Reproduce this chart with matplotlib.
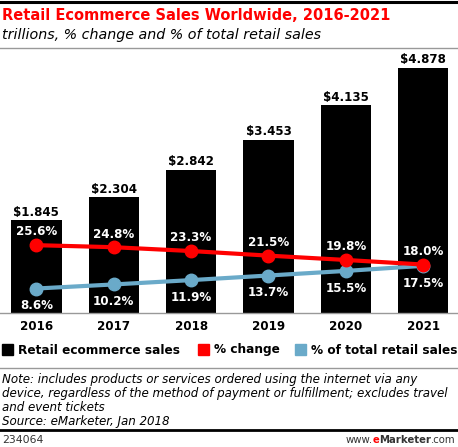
import matplotlib.pyplot as plt
from matplotlib.patches import Rectangle
from matplotlib.lines import Line2D

years = ['2016', '2017', '2018', '2019', '2020', '2021']
sales = [1.845, 2.304, 2.842, 3.453, 4.135, 4.878]
pct_change = [25.6, 24.8, 23.3, 21.5, 19.8, 18.0]
pct_total = [8.6, 10.2, 11.9, 13.7, 15.5, 17.5]

RED = '#ff0000'
BLUE = '#6aaac9'
W, H = 458, 447


def fy(py):
    # pixel row from top -> figure fraction
    return 1 - py / H


def fx(px):
    return px / W


fig = plt.figure(figsize=(W / 100, H / 100), dpi=100)

# header rules and titles
fig.add_artist(Line2D([0, 1], [fy(2), fy(2)], color='black', lw=2.2))
fig.text(fx(2), fy(15), 'Retail Ecommerce Sales Worldwide, 2016-2021', color=RED,
         fontsize=10.5, fontweight='bold', va='center', ha='left')
fig.text(fx(2), fy(35), 'trillions, % change and % of total retail sales', color='black',
         fontsize=10.3, style='italic', va='center', ha='left')
fig.add_artist(Line2D([0, 1], [fy(48), fy(48)], color='#999999', lw=1))

# main axes
ax = fig.add_axes([0, fy(313), 1, fy(55) - fy(313)])
x = list(range(len(years)))
ax.bar(x, sales, width=0.65, color='black', zorder=1)
ax.set_xlim(-0.47, 5.45)
ax.set_ylim(0, 258 / 50.2)
for i, v in enumerate(sales):
    ax.annotate('$%.3f' % v, (i, v), xytext=(0, 6), textcoords='offset points',
                ha='center', va='center', fontsize=8.6, fontweight='bold')
ax.set_xticks(x)
ax.set_xticklabels(years, fontsize=8.6, fontweight='bold')
ax.tick_params(axis='x', length=0, pad=5)
ax.set_yticks([])
for s in ['top', 'left', 'right']:
    ax.spines[s].set_visible(False)
ax.spines['bottom'].set_color('#999999')
ax.spines['bottom'].set_linewidth(1)

ax2 = ax.twinx()
ax2.set_ylim(-1.0, 258 / 2.55 - 1.0)
ax2.plot(x, pct_total, color=BLUE, lw=3, marker='o', ms=9, zorder=3)
ax2.plot(x, pct_change, color=RED, lw=3, marker='o', ms=9, zorder=4)
for i in x:
    ax2.annotate('%.1f%%' % pct_change[i], (i, pct_change[i]), xytext=(0, 9.5),
                 textcoords='offset points', ha='center', va='center',
                 color='white', fontsize=8.6, fontweight='bold')
    ax2.annotate('%.1f%%' % pct_total[i], (i, pct_total[i]), xytext=(0, -12.5),
                 textcoords='offset points', ha='center', va='center',
                 color='white', fontsize=8.6, fontweight='bold')
ax2.axis('off')

# legend
leg = [('Retail ecommerce sales', 'black', 2), ('% change', RED, 198),
       ('% of total retail sales', BLUE, 295)]
for label, col, px in leg:
    fig.add_artist(Rectangle((fx(px), fy(355)), fx(11), 11 / H, color=col,
                             transform=fig.transFigure))
    fig.text(fx(px + 16), fy(350), label, fontsize=8.7, fontweight='bold',
             va='center', ha='left')

fig.add_artist(Line2D([0, 1], [fy(368), fy(368)], color='#999999', lw=1))
notes = ['Note: includes products or services ordered using the internet via any',
         'device, regardless of the method of payment or fulfillment; excludes travel',
         'and event tickets',
         'Source: eMarketer, Jan 2018']
for k, line in enumerate(notes):
    fig.text(fx(2), fy(379 + 14.2 * k), line, fontsize=8.6, style='italic',
             va='center', ha='left')
fig.add_artist(Line2D([0, 1], [fy(430), fy(430)], color='black', lw=2))
fig.text(fx(2), fy(440), '234064', fontsize=7.8, color='#333333', va='center', ha='left')

# footer url built right to left
fs = 7.3
t1 = fig.text(fx(456), fy(440), '.com', fontsize=fs, color='#333333', va='center', ha='right')
fig.canvas.draw()
bb = t1.get_window_extent()
t2 = fig.text(bb.x0 / W, fy(440), 'Marketer', fontsize=fs, fontweight='bold',
              color='#333333', va='center', ha='right')
bb = t2.get_window_extent()
t3 = fig.text(bb.x0 / W, fy(440), 'e', fontsize=fs, fontweight='bold',
              color=RED, va='center', ha='right')
bb = t3.get_window_extent()
fig.text(bb.x0 / W, fy(440), 'www.', fontsize=fs, color='#333333', va='center', ha='right')

fig.savefig('out.png', dpi=100)
